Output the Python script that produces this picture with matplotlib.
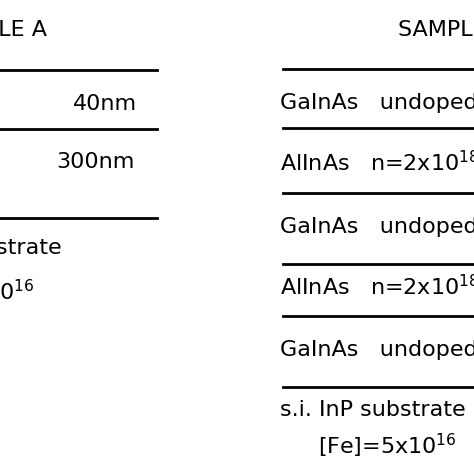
import matplotlib
matplotlib.use("Agg")
import matplotlib.pyplot as plt

# layer labels (right column, sample B) and left column (sample A)
titles = ["SAMPLE A", "SAMPLE B"]
left_layers = ["40nm", "300nm"]
left_sub = ["s.i. InP substrate", "[Fe]=5x10$^{16}$"]
right_layers = ["GaInAs   undoped", "AlInAs   n=2x10$^{18}$", "GaInAs   undoped",
                "AlInAs   n=2x10$^{18}$", "GaInAs   undoped"]
right_sub = ["s.i. InP substrate", "[Fe]=5x10$^{16}$"]

left_lines_y = [70, 129, 218]
right_lines_y = [69, 128, 193, 264, 316, 387]

fig = plt.figure(figsize=(4.74, 4.74), dpi=100)
ax = fig.add_axes([0, 0, 1, 1])
ax.set_xlim(0, 474)
ax.set_ylim(474, 0)
ax.axis("off")

fs = 16
ax.text(47, 30, titles[0], ha="right", va="center", fontsize=fs)
ax.text(398, 30, titles[1], ha="left", va="center", fontsize=fs)

for y in left_lines_y:
    ax.plot([0, 157], [y, y], color="black", lw=2)
ax.text(137, 104, left_layers[0], ha="right", va="center", fontsize=fs)
ax.text(135, 162, left_layers[1], ha="right", va="center", fontsize=fs)
ax.text(62, 248, left_sub[0], ha="right", va="center", fontsize=fs)
ax.text(35, 292, left_sub[1], ha="right", va="center", fontsize=fs)

for y in right_lines_y:
    ax.plot([283, 474], [y, y], color="black", lw=2)
text_y = [103, 163, 227, 287, 350]
for y, lab in zip(text_y, right_layers):
    ax.text(280, y, lab, ha="left", va="center", fontsize=fs)
ax.text(280, 410, right_sub[0], ha="left", va="center", fontsize=fs)
ax.text(318, 446, right_sub[1], ha="left", va="center", fontsize=fs)

fig.savefig("out.png", dpi=100)
